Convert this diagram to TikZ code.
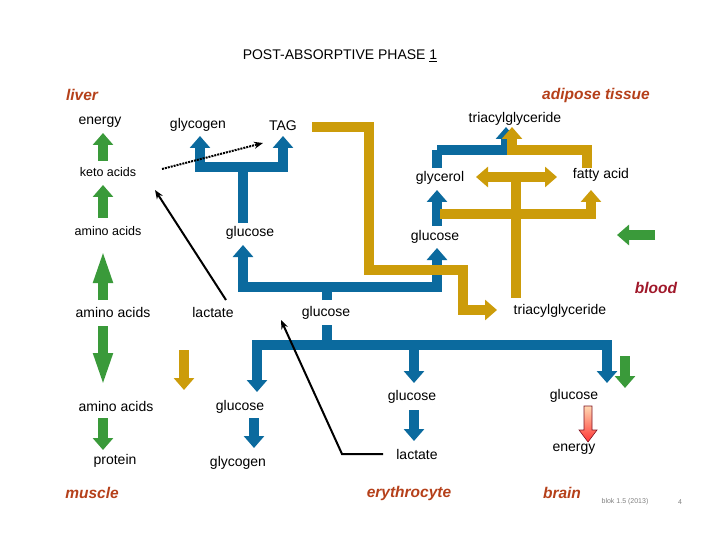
\documentclass[tikz,border=0pt]{standalone}
\usepackage{fontspec}
\setmainfont{Liberation Sans}
\usetikzlibrary{arrows.meta}
\definecolor{pblue}{HTML}{0B6A9E}
\definecolor{pgold}{HTML}{CC9C0A}
\definecolor{pgreen}{HTML}{3A9A3A}
\definecolor{pbrown}{HTML}{B5401A}
\definecolor{pred}{HTML}{A0182A}
\tikzset{
 lbl/.style={font=\fontsize{14}{16}\selectfont,inner sep=1pt},
 slbl/.style={font=\fontsize{12.5}{14}\selectfont,inner sep=1pt},
 organ/.style={font=\fontsize{15.5}{18}\selectfont\bfseries\itshape,text=pbrown},
 pipe/.style={line width=10pt,miter limit=10},
 bl/.style={pipe,draw=pblue,-{Triangle[width=20pt,length=12pt]}},
 bln/.style={pipe,draw=pblue},
 gd/.style={pipe,draw=pgold,-{Triangle[width=20pt,length=12pt]}},
 gdn/.style={pipe,draw=pgold},
 gr/.style={pipe,draw=pgreen,-{Triangle[width=20pt,length=12pt]}},
 grb/.style={pipe,draw=pgreen,-{Triangle[width=16pt,length=40pt]}},
 blk/.style={line width=2pt,-{Stealth[length=9pt,width=7pt]}}
}
\begin{document}
\begin{tikzpicture}[x=1pt,y=-1pt]
\useasboundingbox (0,0) rectangle (720,540);
% texts
\node[lbl] (title) at (340,56) {POST-ABSORPTIVE PHASE \underline{1}};
\node[organ] (liver) at (82,95) {liver};
\node[organ] (adip) at (596,95) {adipose tissue};
\node[organ,text=pred] (blood) at (656,288) {blood};
\node[organ] (muscle) at (92,493) {muscle};
\node[organ] (ery) at (409,493) {erythrocyte};
\node[organ] (brain) at (562,493) {brain};
\node[font=\fontsize{7}{8}\selectfont,text=gray] (blok) at (625,502) {blok 1.5 (2013)};
\node[font=\fontsize{7}{8}\selectfont,text=gray] (pg) at (680,502) {4};
\node[lbl] (energy) at (100,122) {energy};
\node[lbl] (glycogenL) at (198,125) {glycogen};
\node[lbl] (tag) at (283,126) {TAG};
\node[lbl] (tgA) at (515,119) {triacylglyceride};
\node[slbl] (keto) at (108,172) {keto acids};
\node[lbl] (glycerol) at (440,178) {glycerol};
\node[lbl] (fatty) at (601,175) {fatty acid};
\node[slbl] (aaL) at (108,231) {amino acids};
\node[lbl] (gluL) at (250,233) {glucose};
\node[lbl] (gluA) at (435,237) {glucose};
\node[lbl] (aa1) at (113,312) {amino acids};
\node[lbl] (lacB) at (213,312) {lactate};
\node[lbl] (gluB) at (326,313) {glucose};
\node[lbl] (tgB) at (560,311) {triacylglyceride};
\node[lbl] (aa2) at (116,406) {amino acids};
\node[lbl] (gluM) at (240,407) {glucose};
\node[lbl] (gluE) at (412,397) {glucose};
\node[lbl] (gluBr) at (574,396) {glucose};
\node[lbl] (protein) at (115,461) {protein};
\node[lbl] (glycM) at (238,463) {glycogen};
\node[lbl] (lacE) at (417,454) {lactate};
\node[lbl] (enBr) at (574,449) {energy};
% green
\draw[gr] (103,161) -- (103,133);
\draw[gr] (103,218) -- (103,185);
\draw[grb] (103,300) -- (103,243);
\draw[grb] (103,326) -- (103,393);
\draw[gr] (103,418) -- (103,450);
\draw[gr] (625,356) -- (625,388);
\draw[gr] (655,235) -- (617,235);
% liver blue
\draw[bln] (243,223) -- (243,167);
\draw[bl] (243,167) -| (200,136);
\draw[bl] (243,167) -| (283,136);
% blood blue
\draw[bln] (327,300) -- (327,287);
\draw[bl] (327,287) -| (243,245);
\draw[bl] (327,287) -| (437,248);
\draw[bln] (327,325) -- (327,345);
\draw[bl] (327,345) -| (257,392);
\draw[bl] (327,345) -| (607,383);
\draw[bl] (414,345) -- (414,383);
\draw[bl] (414,410) -- (414,441);
\draw[bl] (254,418) -- (254,448);
\draw[draw=pred!80!black,line width=0.6pt,top color=orange!30,bottom color=red!80,
  shading angle=0] (584,406) -- (592,406) -- (592,430) -- (597,430) -- (588,442) -- (579,430) -- (584,430) -- cycle;
% adipose blue
\draw[bl] (437,226) -- (437,190);
\draw[bln] (437,168) -- (437,150);
\draw[bl] (437,150) -| (506,127);
% gold
\draw[gd] (587,168) -- (587,150) -| (512,127);
\draw[gd,{Triangle[width=20pt,length=12pt]}-{Triangle[width=20pt,length=12pt]}] (476,177) -- (557,177);
\draw[gdn] (516,177) -- (516,298);
\draw[gd] (440,214) -| (591,190);
\draw[gd] (312,127) -| (369,270) -| (463,310) -- (497,310);
\draw[gd] (184,350) -- (184,390);
% black
\draw[blk,dash pattern=on 2pt off 1pt] (162,169) -- (263,143);
\draw[blk] (226,300) -- (155,190);
\draw[blk] (383,454) -- (342,454) -- (281,320);
\end{tikzpicture}
\end{document}
